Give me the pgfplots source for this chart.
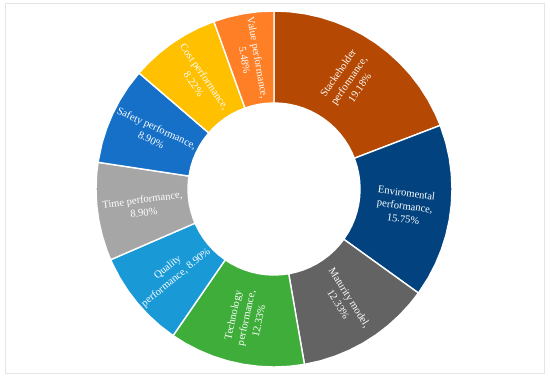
\documentclass[border=0pt]{standalone}
\usepackage{pgfplots}
\pgfplotsset{compat=1.18}
\usepackage{fontspec}
\setmainfont{Liberation Serif}
\usetikzlibrary{calc}
\definecolor{cStake}{RGB}{181,72,2}
\definecolor{cEnv}{RGB}{2,67,127}
\definecolor{cMat}{RGB}{99,99,99}
\definecolor{cTech}{RGB}{63,173,58}
\definecolor{cQual}{RGB}{25,154,214}
\definecolor{cTime}{RGB}{166,166,166}
\definecolor{cSafe}{RGB}{22,112,200}
\definecolor{cCost}{RGB}{255,192,0}
\definecolor{cVal}{RGB}{255,127,39}
\tikzset{
  wedge/.style={draw=white, line width=1.4bp},
  lbl/.style={text=white, align=center, inner sep=0pt,
    font=\fontsize{10.6}{13.2}\selectfont}}
\begin{document}
\begin{tikzpicture}
% data values (percent)
\def\vA{19.18}\def\vB{15.75}\def\vC{12.33}\def\vD{12.33}\def\vE{8.90}
\def\vF{8.90}\def\vG{8.90}\def\vH{8.22}\def\vI{5.48}
\pgfmathsetmacro{\tot}{\vA+\vB+\vC+\vD+\vE+\vF+\vG+\vH+\vI}
\pgfmathsetmacro{\bA}{90-360*\vA/\tot}
\pgfmathsetmacro{\bB}{\bA-360*\vB/\tot}
\pgfmathsetmacro{\bC}{\bB-360*\vC/\tot}
\pgfmathsetmacro{\bD}{\bC-360*\vD/\tot}
\pgfmathsetmacro{\bE}{\bD-360*\vE/\tot}
\pgfmathsetmacro{\bF}{\bE-360*\vF/\tot}
\pgfmathsetmacro{\bG}{\bF-360*\vG/\tot}
\pgfmathsetmacro{\bH}{\bG-360*\vH/\tot}
\pgfmathsetmacro{\mA}{(90+\bA)/2}
\pgfmathsetmacro{\mB}{(\bA+\bB)/2}
\pgfmathsetmacro{\mC}{(\bB+\bC)/2}
\pgfmathsetmacro{\mD}{(\bC+\bD)/2-180}
\pgfmathsetmacro{\mE}{(\bD+\bE)/2-180}
\pgfmathsetmacro{\mF}{(\bE+\bF)/2-180}
\pgfmathsetmacro{\mG}{(\bF+\bG)/2-180}
\pgfmathsetmacro{\mH}{(\bG+\bH)/2-180}
\pgfmathsetmacro{\mI}{(\bH-270)/2-180}
\begin{axis}[x=1bp, y=1bp, hide axis, scale only axis,
  xmin=-274, xmax=276, ymin=-191, ymax=189, clip=false]
\path (axis cs:-274,-191) rectangle (axis cs:276,189);
\draw[draw=black!10, line width=1bp] (axis cs:-269,185) rectangle (axis cs:270,-184);
% Stakeholder
\addplot[wedge, data cs=polar, fill=cStake] coordinates {(90,178) (85,178) (80,178) (75,178) (70,178) (65,178) (60,178) (55,178) (50,178) (45,178) (40,178) (35,178) (30,178) (25,178) (\bA,178)
 (\bA,86) (25,86) (30,86) (35,86) (40,86) (45,86) (50,86) (55,86) (60,86) (65,86) (70,86) (75,86) (80,86) (85,86) (90,86)} -- cycle;
% Enviromental
\addplot[wedge, data cs=polar, fill=cEnv] coordinates {(\bA,178) (15,178) (10,178) (5,178) (0,178) (-5,178) (-10,178) (-15,178) (-20,178) (-25,178) (-30,178) (\bB,178)
 (\bB,86) (-30,86) (-25,86) (-20,86) (-15,86) (-10,86) (-5,86) (0,86) (5,86) (10,86) (15,86) (\bA,86)} -- cycle;
% Maturity
\addplot[wedge, data cs=polar, fill=cMat] coordinates {(\bB,178) (-40,178) (-45,178) (-50,178) (-55,178) (-60,178) (-65,178) (-70,178) (-75,178) (\bC,178)
 (\bC,86) (-75,86) (-70,86) (-65,86) (-60,86) (-55,86) (-50,86) (-45,86) (-40,86) (\bB,86)} -- cycle;
% Technology
\addplot[wedge, data cs=polar, fill=cTech] coordinates {(\bC,178) (-85,178) (-90,178) (-95,178) (-100,178) (-105,178) (-110,178) (-115,178) (-120,178) (\bD,178)
 (\bD,86) (-120,86) (-115,86) (-110,86) (-105,86) (-100,86) (-95,86) (-90,86) (-85,86) (\bC,86)} -- cycle;
% Quality
\addplot[wedge, data cs=polar, fill=cQual] coordinates {(\bD,178) (-130,178) (-135,178) (-140,178) (-145,178) (-150,178) (-155,178) (\bE,178)
 (\bE,86) (-155,86) (-150,86) (-145,86) (-140,86) (-135,86) (-130,86) (\bD,86)} -- cycle;
% Time
\addplot[wedge, data cs=polar, fill=cTime] coordinates {(\bE,178) (-160,178) (-165,178) (-170,178) (-175,178) (-180,178) (-185,178) (\bF,178)
 (\bF,86) (-185,86) (-180,86) (-175,86) (-170,86) (-165,86) (-160,86) (\bE,86)} -- cycle;
% Safety
\addplot[wedge, data cs=polar, fill=cSafe] coordinates {(\bF,178) (-195,178) (-200,178) (-205,178) (-210,178) (-215,178) (\bG,178)
 (\bG,86) (-215,86) (-210,86) (-205,86) (-200,86) (-195,86) (\bF,86)} -- cycle;
% Cost
\addplot[wedge, data cs=polar, fill=cCost] coordinates {(\bG,178) (-225,178) (-230,178) (-235,178) (-240,178) (-245,178) (\bH,178)
 (\bH,86) (-245,86) (-240,86) (-235,86) (-230,86) (-225,86) (\bG,86)} -- cycle;
% Value
\addplot[wedge, data cs=polar, fill=cVal] coordinates {(\bH,178) (-255,178) (-260,178) (-265,178) (-270,178)
 (-270,86) (-265,86) (-260,86) (-255,86) (\bH,86)} -- cycle;
% labels
\node[lbl, rotate=\mA] at ($(axis cs:0,0)+(\mA:132bp)$) {Stackeholder\\performance,\\19.18\%};
\node[lbl, rotate=\mB] at ($(axis cs:0,0)+(\mB:132bp)$) {Enviromental\\performance,\\15.75\%};
\node[lbl, rotate=\mC] at ($(axis cs:0,0)+(\mC:132bp)$) {Maturity model,\\12.33\%};
\node[lbl, rotate=\mD] at ($(axis cs:0,0)+(\mD+180:132bp)$) {Technology\\performance,\\12.33\%};
\node[lbl, rotate=\mE] at ($(axis cs:0,0)+(\mE+180:132bp)$) {Quality\\performance, 8.90\%};
\node[lbl, rotate=\mF] at ($(axis cs:0,0)+(\mF+180:132bp)$) {Time performance,\\8.90\%};
\node[lbl, rotate=\mG] at ($(axis cs:0,0)+(\mG+180:132bp)$) {Safety performance,\\8.90\%};
\node[lbl, rotate=\mH] at ($(axis cs:0,0)+(\mH+180:132bp)$) {Cost performance,\\8.22\%};
\node[lbl, rotate=\mI] at ($(axis cs:0,0)+(\mI+180:132bp)$) {Value performance,\\5.48\%};
\end{axis}
\end{tikzpicture}
\end{document}
